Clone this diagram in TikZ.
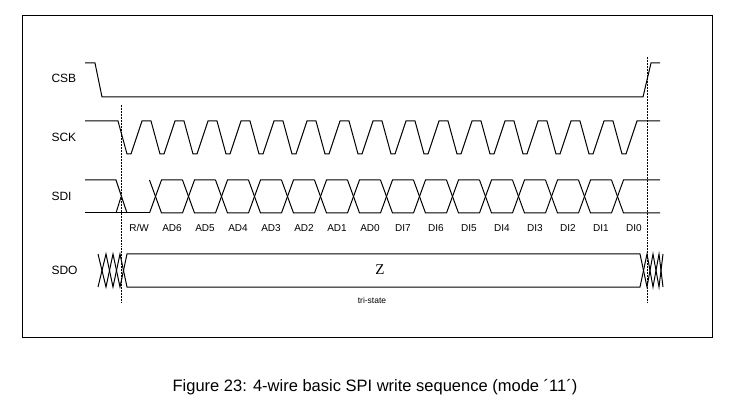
\documentclass[tikz,border=0pt]{standalone}
\usepackage{fontspec}
\setmainfont{Liberation Sans}
\usetikzlibrary{positioning}
\newfontfamily\zfont{Liberation Serif}

\begin{document}
\begin{tikzpicture}[x=1pt, y=-1pt,
    wave/.style={line width=1pt},
    marker/.style={densely dotted, line width=0.5pt},
    sig/.style={anchor=west, font=\fontsize{12}{14}\selectfont},
    bit/.style={font=\fontsize{10}{12}\selectfont}
]
    \useasboundingbox (0,0) rectangle (751,411);
    \node[draw, line width=0.8pt, minimum width=690pt, minimum height=322pt, anchor=north west, inner sep=0pt] (frame) at (22,15) {};

    % signal names
    \node[sig] (csb) at (48,78) {CSB};
    \node[sig] (sck) at (48,137) {SCK};
    \node[sig] (sdi) at (48,196) {SDI};
    \node[sig] (sdo) at (48,270) {SDO};

    % markers
    \draw[marker] (121,105) -- (121,302);
    \draw[marker] (647,57) -- (647,302);

    % CSB
    \draw[wave] (85,63) -- (95,63) -- (102,97) -- (643,97) -- (651,63) -- (660,63);

    % SCK
    \draw[wave] (85,121) -- (118,121)
      \foreach \k in {0,...,15} {
        -- ({118+33*\k+9},154) -- ({118+33*\k+13},154) -- ({118+33*\k+24},121) -- ({118+33*\k+33},121)
      } -- (660,121);

    % SDI
    \draw[wave] (85,180) -- (116,180) -- (127,213);
    \draw[wave] (85,213) -- (150,213);
    \draw[wave] (116,213) -- (121,197);
    \foreach \k in {1,...,14} {
      \draw[wave] ({122.5+33*\k-6},213) -- ({122.5+33*\k+6},180) -- ({122.5+33*(\k+1)-6},180);
      \draw[wave] ({122.5+33*\k-6},180) -- ({122.5+33*\k+6},213) -- ({122.5+33*(\k+1)-6},213);
    }
    \draw[wave] ({122.5+33*15-6},213) -- ({122.5+33*15+6},180) -- (660,180);
    \draw[wave] ({122.5+33*15-6},180) -- ({122.5+33*15+6},213) -- (660,213);

    % bit labels
    \foreach \lbl [count=\i from 0] in {R/W,AD6,AD5,AD4,AD3,AD2,AD1,AD0,DI7,DI6,DI5,DI4,DI3,DI2,DI1,DI0} {
      \node[bit] (b\i) at ({139+33*\i},228) {\lbl};
    }

    % SDO
    \draw[wave] (98,254) -- (106,287) -- (113,254) -- (120,287) -- (127,254) -- (640,254) -- (647,287) -- (653,254) -- (659,287) -- (663,254);
    \draw[wave] (98,287) -- (106,254) -- (113,287) -- (120,254) -- (127,287) -- (640,287) -- (647,254) -- (653,287) -- (659,254) -- (663,287);
    \node[font=\zfont\fontsize{15}{17}\selectfont] (z) at (380,270) {Z};
    \node[font=\fontsize{8.5}{10}\selectfont] (tri) at (372,300) {tri-state};

    % caption
    \node[font=\fontsize{16.5}{19}\selectfont] (cap) at (375,387) {Figure 23: 4-wire basic SPI write sequence (mode ´11´)};
\end{tikzpicture}
\end{document}
